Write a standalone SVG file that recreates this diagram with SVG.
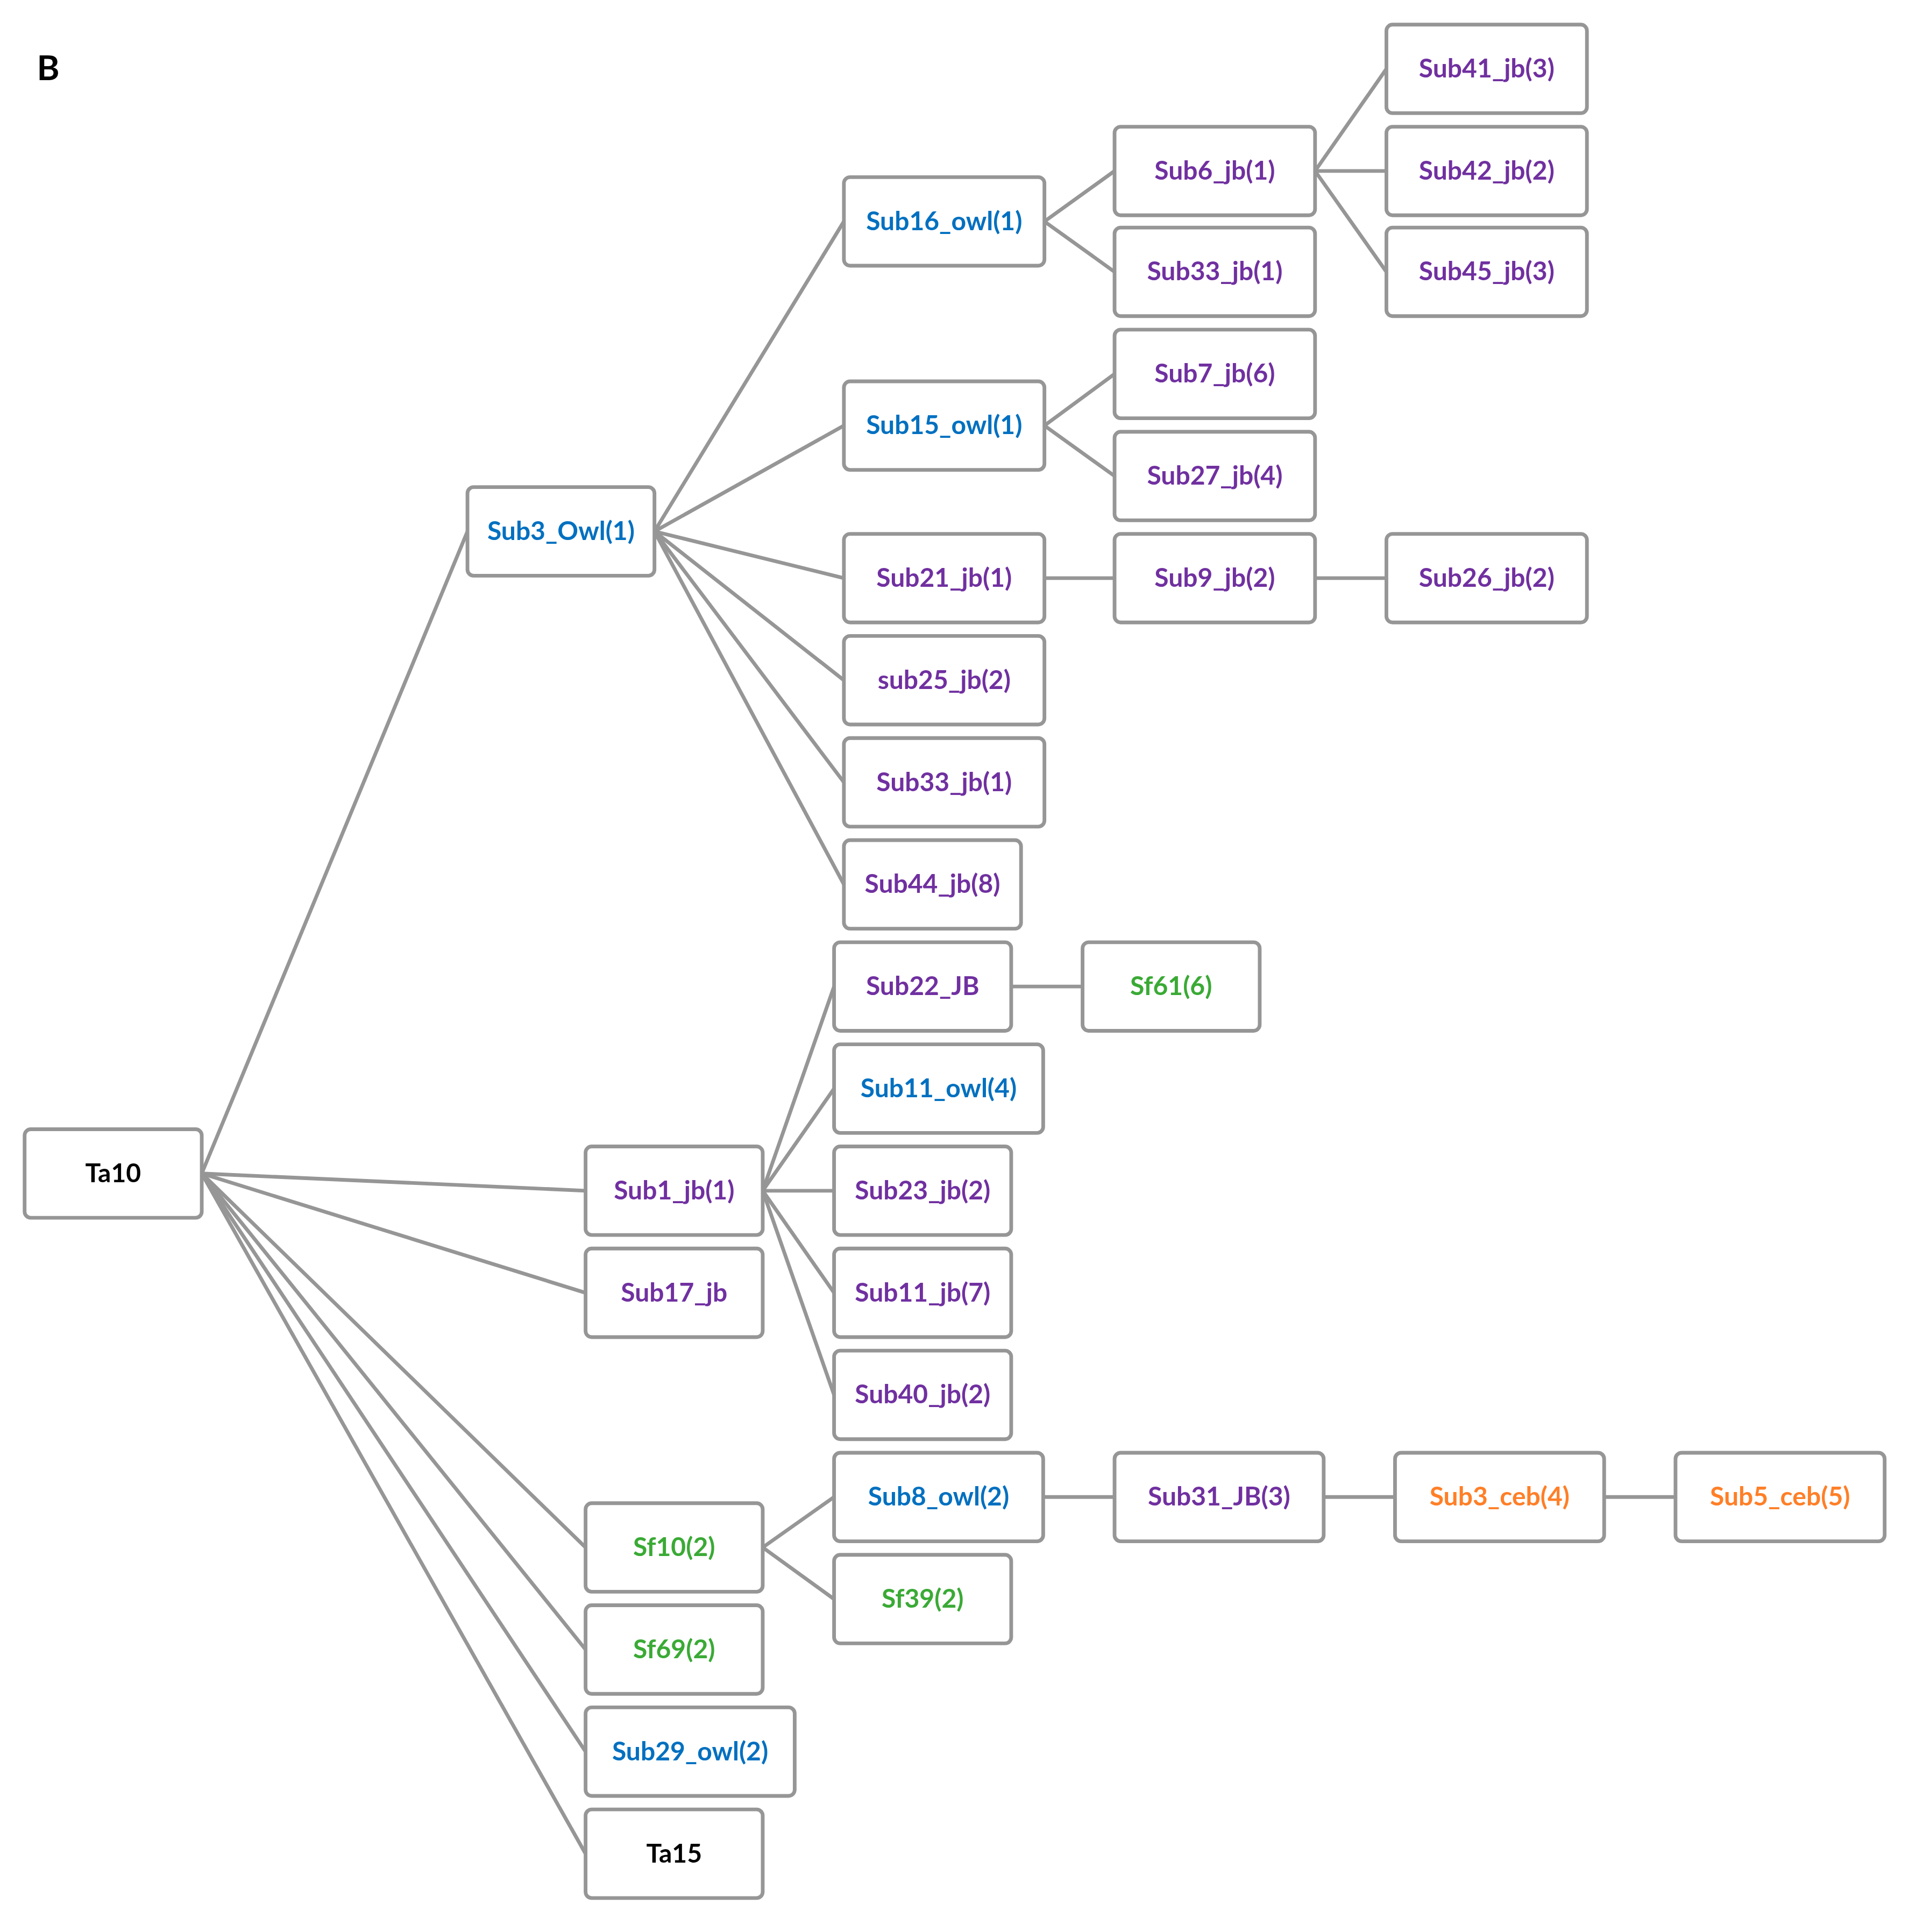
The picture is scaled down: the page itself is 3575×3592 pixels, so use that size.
<svg xmlns="http://www.w3.org/2000/svg" width="3575" height="3592" viewBox="0 0 3575 3592">
<style>
.n rect{fill:#fff;stroke:#969696;stroke-width:3}
.n text{font-family:Lato,"Open Sans","Liberation Sans",sans-serif;font-weight:bold;font-size:21px;text-anchor:middle}
.b text{fill:#0070C0}.p text{fill:#7030A0}.g text{fill:#3AAA35}.o text{fill:#FF7F27}.k text{fill:#000}
#edges line{stroke:#969696;stroke-width:3}
</style>
<rect width="3575" height="3592" fill="#fff"/>
<g transform="scale(2.287)">
<text x="30" y="65" font-family="Lato,'Open Sans','Liberation Sans',sans-serif" font-weight="bold" font-size="28">B</text>
<g id="edges">
<line x1="164" y1="954" x2="380" y2="432"/>
<line x1="164" y1="954" x2="476" y2="968"/>
<line x1="164" y1="954" x2="476" y2="1051"/>
<line x1="164" y1="954" x2="476" y2="1258"/>
<line x1="164" y1="954" x2="476" y2="1341"/>
<line x1="164" y1="954" x2="476" y2="1424"/>
<line x1="164" y1="954" x2="476" y2="1507"/>
<line x1="532" y1="432" x2="686" y2="180"/>
<line x1="532" y1="432" x2="686" y2="346"/>
<line x1="532" y1="432" x2="686" y2="470"/>
<line x1="532" y1="432" x2="686" y2="553"/>
<line x1="532" y1="432" x2="686" y2="636"/>
<line x1="532" y1="432" x2="686" y2="719"/>
<line x1="849" y1="180" x2="906" y2="139"/>
<line x1="849" y1="180" x2="906" y2="221"/>
<line x1="1069" y1="139" x2="1127" y2="56"/>
<line x1="1069" y1="139" x2="1127" y2="139"/>
<line x1="1069" y1="139" x2="1127" y2="221"/>
<line x1="849" y1="346" x2="906" y2="304"/>
<line x1="849" y1="346" x2="906" y2="387"/>
<line x1="849" y1="470" x2="906" y2="470"/>
<line x1="1069" y1="470" x2="1127" y2="470"/>
<line x1="620" y1="968" x2="678" y2="802"/>
<line x1="620" y1="968" x2="678" y2="885"/>
<line x1="620" y1="968" x2="678" y2="968"/>
<line x1="620" y1="968" x2="678" y2="1051"/>
<line x1="620" y1="968" x2="678" y2="1134"/>
<line x1="822" y1="802" x2="880" y2="802"/>
<line x1="620" y1="1258" x2="678" y2="1217"/>
<line x1="620" y1="1258" x2="678" y2="1300"/>
<line x1="848" y1="1217" x2="906" y2="1217"/>
<line x1="1076" y1="1217" x2="1134" y2="1217"/>
<line x1="1304" y1="1217" x2="1362" y2="1217"/>
</g>
<g id="ta10" class="n k"><rect x="20" y="918" width="144" height="72" rx="5"/><text x="92" y="961">Ta10</text></g>
<g id="sub3owl" class="n b"><rect x="380" y="396" width="152" height="72" rx="5"/><text x="456" y="439">Sub3_Owl(1)</text></g>
<g id="sub16" class="n b"><rect x="686" y="144" width="163" height="72" rx="5"/><text x="767.5" y="187">Sub16_owl(1)</text></g>
<g id="sub15" class="n b"><rect x="686" y="310" width="163" height="72" rx="5"/><text x="767.5" y="353">Sub15_owl(1)</text></g>
<g id="sub21" class="n p"><rect x="686" y="434" width="163" height="72" rx="5"/><text x="767.5" y="477">Sub21_jb(1)</text></g>
<g id="sub25" class="n p"><rect x="686" y="517" width="163" height="72" rx="5"/><text x="767.5" y="560">sub25_jb(2)</text></g>
<g id="sub33a" class="n p"><rect x="686" y="600" width="163" height="72" rx="5"/><text x="767.5" y="643">Sub33_jb(1)</text></g>
<g id="sub44" class="n p"><rect x="686" y="683" width="144" height="72" rx="5"/><text x="758" y="726">Sub44_jb(8)</text></g>
<g id="sub6" class="n p"><rect x="906" y="103" width="163" height="72" rx="5"/><text x="987.5" y="146">Sub6_jb(1)</text></g>
<g id="sub33b" class="n p"><rect x="906" y="185" width="163" height="72" rx="5"/><text x="987.5" y="228">Sub33_jb(1)</text></g>
<g id="sub7" class="n p"><rect x="906" y="268" width="163" height="72" rx="5"/><text x="987.5" y="311">Sub7_jb(6)</text></g>
<g id="sub27" class="n p"><rect x="906" y="351" width="163" height="72" rx="5"/><text x="987.5" y="394">Sub27_jb(4)</text></g>
<g id="sub9" class="n p"><rect x="906" y="434" width="163" height="72" rx="5"/><text x="987.5" y="477">Sub9_jb(2)</text></g>
<g id="sub41" class="n p"><rect x="1127" y="20" width="163" height="72" rx="5"/><text x="1208.5" y="63">Sub41_jb(3)</text></g>
<g id="sub42" class="n p"><rect x="1127" y="103" width="163" height="72" rx="5"/><text x="1208.5" y="146">Sub42_jb(2)</text></g>
<g id="sub45" class="n p"><rect x="1127" y="185" width="163" height="72" rx="5"/><text x="1208.5" y="228">Sub45_jb(3)</text></g>
<g id="sub26" class="n p"><rect x="1127" y="434" width="163" height="72" rx="5"/><text x="1208.5" y="477">Sub26_jb(2)</text></g>
<g id="sub22" class="n p"><rect x="678" y="766" width="144" height="72" rx="5"/><text x="750" y="809">Sub22_JB</text></g>
<g id="sf61" class="n g"><rect x="880" y="766" width="144" height="72" rx="5"/><text x="952" y="809">Sf61(6)</text></g>
<g id="sub11owl" class="n b"><rect x="678" y="849" width="170" height="72" rx="5"/><text x="763" y="892">Sub11_owl(4)</text></g>
<g id="sub23" class="n p"><rect x="678" y="932" width="144" height="72" rx="5"/><text x="750" y="975">Sub23_jb(2)</text></g>
<g id="sub11jb" class="n p"><rect x="678" y="1015" width="144" height="72" rx="5"/><text x="750" y="1058">Sub11_jb(7)</text></g>
<g id="sub40" class="n p"><rect x="678" y="1098" width="144" height="72" rx="5"/><text x="750" y="1141">Sub40_jb(2)</text></g>
<g id="sub1" class="n p"><rect x="476" y="932" width="144" height="72" rx="5"/><text x="548" y="975">Sub1_jb(1)</text></g>
<g id="sub17" class="n p"><rect x="476" y="1015" width="144" height="72" rx="5"/><text x="548" y="1058">Sub17_jb</text></g>
<g id="sf10" class="n g"><rect x="476" y="1222" width="144" height="72" rx="5"/><text x="548" y="1265">Sf10(2)</text></g>
<g id="sf69" class="n g"><rect x="476" y="1305" width="144" height="72" rx="5"/><text x="548" y="1348">Sf69(2)</text></g>
<g id="sub29" class="n b"><rect x="476" y="1388" width="170" height="72" rx="5"/><text x="561" y="1431">Sub29_owl(2)</text></g>
<g id="ta15" class="n k"><rect x="476" y="1471" width="144" height="72" rx="5"/><text x="548" y="1514">Ta15</text></g>
<g id="sub8" class="n b"><rect x="678" y="1181" width="170" height="72" rx="5"/><text x="763" y="1224">Sub8_owl(2)</text></g>
<g id="sf39" class="n g"><rect x="678" y="1264" width="144" height="72" rx="5"/><text x="750" y="1307">Sf39(2)</text></g>
<g id="sub31" class="n p"><rect x="906" y="1181" width="170" height="72" rx="5"/><text x="991" y="1224">Sub31_JB(3)</text></g>
<g id="sub3ceb" class="n o"><rect x="1134" y="1181" width="170" height="72" rx="5"/><text x="1219" y="1224">Sub3_ceb(4)</text></g>
<g id="sub5ceb" class="n o"><rect x="1362" y="1181" width="170" height="72" rx="5"/><text x="1447" y="1224">Sub5_ceb(5)</text></g>
</g>
</svg>
